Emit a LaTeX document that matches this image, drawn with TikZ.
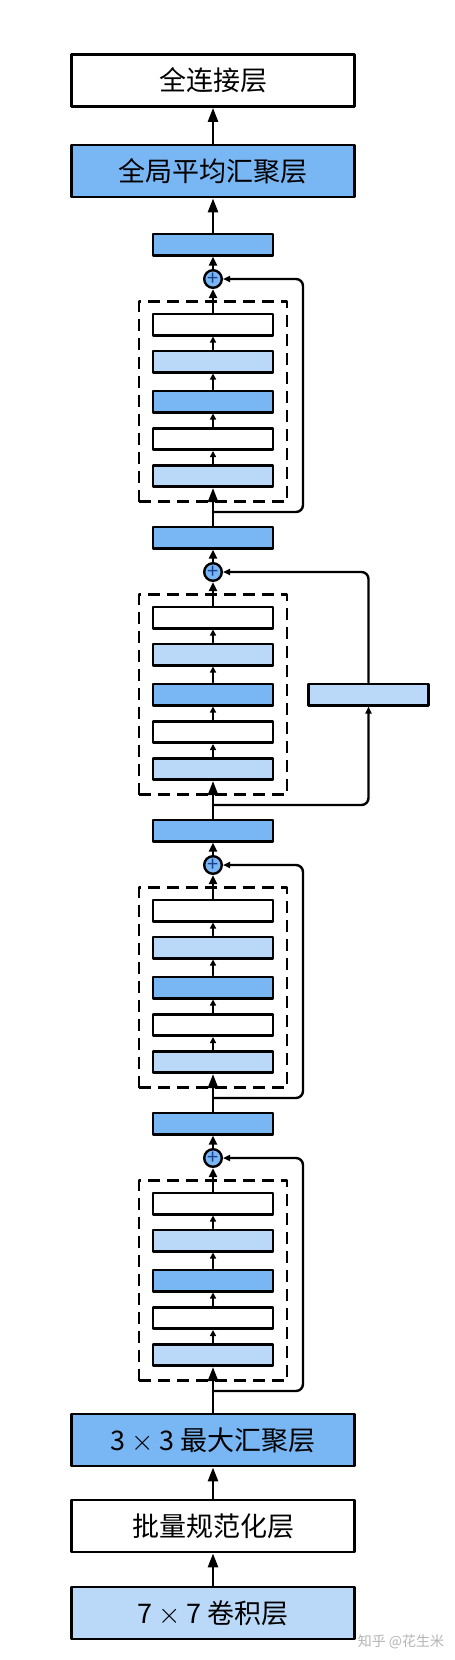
\documentclass[tikz,border=0pt]{standalone}
\usepackage{fontspec}
\setmainfont{Noto Sans CJK SC}
\usepackage{tikz}
\usetikzlibrary{arrows.meta}
\definecolor{midblue}{HTML}{78B6F4}
\definecolor{lightblue}{HTML}{BAD8F8}
\definecolor{plusblue}{HTML}{1B3F8B}
\definecolor{markgray}{HTML}{B4B4B4}

\begin{document}
\begin{tikzpicture}[line cap=round,line join=round,x=0.5pt,y=-0.5pt,
    wide/.style={draw, line width=1.4pt, minimum width=141.5pt, minimum height=26pt, inner sep=0pt, font=\fontsize{13.5}{16}\selectfont},
    narrow/.style={draw, line width=1.4pt, minimum width=60pt, minimum height=10.6pt, inner sep=0pt},
    sum/.style={circle, draw, line width=1.2pt, fill=midblue, minimum size=8.8pt, inner sep=0pt, text=plusblue, font=\fontsize{10}{10}\selectfont},
    blockbox/.style={draw, line cap=butt, dash pattern=on 6pt off 3.5pt, line width=1.3pt, minimum width=74pt, minimum height=100pt},
    main/.style={line width=1.3pt, -{Triangle[length=7pt,width=5pt]}},
    inner/.style={line width=0.9pt, -{Triangle[length=3pt,width=3pt]}},
    mid/.style={line width=1.3pt, -{Triangle[length=4.5pt,width=4pt]}},
    skip/.style={line width=1.2pt, rounded corners=3.5pt, -{Triangle[length=3.5pt,width=3pt]}}]
    \useasboundingbox (0,0) rectangle (455,1660);

    % stem
    \node[wide, fill=lightblue] (conv) at (213,1613) {7 $\times$ 7 卷积层};
    \node[wide, fill=white] (bn) at (213,1526) {批量规范化层};
    \node[wide, fill=midblue] (pool) at (213,1440) {3 $\times$ 3 最大汇聚层};

    % residual blocks, bottom to top
    \foreach \j [evaluate=\j as \o using 293*\j] in {0,...,3} {
        \node[blockbox] (d\j) at (213,1280.5-\o) {};
        \node[narrow, fill=lightblue] (b\j1) at (213,1355-\o) {};
        \node[narrow, fill=white] (b\j2) at (213,1318-\o) {};
        \node[narrow, fill=midblue] (b\j3) at (213,1280.5-\o) {};
        \node[narrow, fill=lightblue] (b\j4) at (213,1240.5-\o) {};
        \node[narrow, fill=white] (b\j5) at (213,1203.5-\o) {};
        \node[sum] (p\j) at (213,1158-\o) {+};
        \node[narrow, fill=midblue] (s\j) at (213,1123.5-\o) {};
        \coordinate (br\j) at (213,1391-\o);

        \draw[inner] (b\j1) -- (b\j2);
        \draw[inner] (b\j2) -- (b\j3);
        \draw[inner] (b\j3) -- (b\j4);
        \draw[inner] (b\j4) -- (b\j5);
        \draw[mid] (b\j5) -- (p\j);
        \draw[mid] (p\j) -- (s\j);
    }

    % head
    \node[wide, fill=midblue] (gap) at (213,171) {全局平均汇聚层};
    \node[wide, fill=white] (fc) at (213,80.5) {全连接层};

    \draw[main] (conv) -- (bn);
    \draw[main] (bn) -- (pool);
    \draw[main] (pool) -- (b01);
    \foreach \j/\k in {0/1,1/2,2/3}
        \draw[main] (s\j) -- (b\k1);
    \draw[main] (s3) -- (gap);
    \draw[main] (gap) -- (fc);

    % shortcuts
    \foreach \j in {0,1,3}
        \draw[skip] (br\j) -- ++(90,0) |- (p\j.east);
    \node[narrow, fill=lightblue] (proj) at (368.5,694.5) {};
    \draw[skip] (br2) -| (proj);
    \draw[skip] (proj) |- (p2.east);

    \node[text=markgray, font=\fontsize{7}{7}\selectfont] (mark) at (401,1642) {知乎 @花生米};
\end{tikzpicture}
\end{document}
